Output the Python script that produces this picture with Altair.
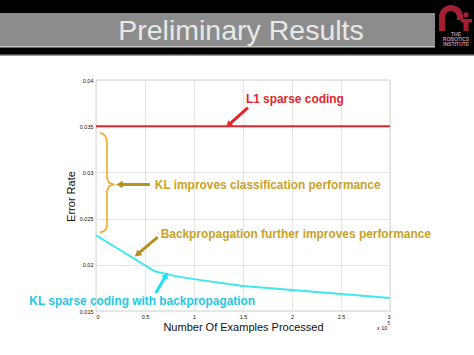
import altair as alt
import pandas as pd

# ---- data ----
x_examples = [0.0, 0.6, 0.8, 1.0, 1.5, 2.0, 2.5, 3.0]
err_kl_bp = [0.0232, 0.0193, 0.0188, 0.01845, 0.0177, 0.01726, 0.01683, 0.0164]
x_l1 = [0.0, 3.0]
err_l1 = [0.035, 0.035]

x_ticks = [0, 0.5, 1, 1.5, 2, 2.5, 3]
y_ticks = [0.015, 0.02, 0.025, 0.03, 0.035, 0.04]

# annotation texts (data coords)
ann_text = ["L1 sparse coding", "KL improves classification performance",
            "Backpropagation further improves performance",
            "KL sparse coding with backpropagation"]
ann_x = [1.53, 0.60, 0.66, -0.68]
ann_y = [0.0379, 0.02869, 0.0233, 0.01611]
ann_color = ["#e3242b", "#c9a227", "#c9a227", "#1ec8e6"]

# arrows (data coords) start -> tip
arr_x1 = [1.55, 0.55, 0.63, 0.61]
arr_y1 = [0.0370, 0.02869, 0.0230, 0.01694]
arr_x2 = [1.36, 0.25, 0.43, 0.71]
arr_y2 = [0.0352, 0.02869, 0.0212, 0.01877]
arr_ang = [228, 270, 231, 30]
arr_color = ["#e3242b", "#b8901e", "#b8901e", "#22e0ee"]

# brace (data coords)
brace_x = [0.041, 0.092, 0.112, 0.112, 0.14, 0.193, 0.14, 0.112, 0.112, 0.092, 0.041]
brace_y = [0.03429, 0.03397, 0.03332, 0.02944, 0.02885, 0.02869, 0.02853, 0.02793, 0.02427, 0.02373, 0.02351]

W, H = 294, 231
PL, PT = 96, 80

xs = alt.Scale(domain=[0, 3], nice=False)
ys = alt.Scale(domain=[0.015, 0.04], nice=False)

df_bp = pd.DataFrame({"x": x_examples, "y": err_kl_bp})
df_l1 = pd.DataFrame({"x": x_l1, "y": err_l1})
df_ann = pd.DataFrame({"t": ann_text, "x": ann_x, "y": ann_y, "c": ann_color})
df_arr = pd.DataFrame({"x1": arr_x1, "y1": arr_y1, "x2": arr_x2, "y2": arr_y2,
                       "a": arr_ang, "c": arr_color})
df_brace = pd.DataFrame({"x": brace_x, "y": brace_y, "o": list(range(len(brace_x)))})
one = pd.DataFrame({"k": [0]})

xaxis = alt.Axis(values=x_ticks, format="~g", title="Number Of Examples Processed",
                 labelFontSize=5.5, labelPadding=3, tickSize=0, grid=True,
                 gridColor="#e4e4e4", domain=False, titleFontSize=11,
                 titleFontWeight="normal", titleFont="Liberation Sans",
                 titleY=16, titleBaseline="middle", titleColor="#111")
yaxis = alt.Axis(values=y_ticks, format=".3~f", title="Error Rate",
                 labelFontSize=5.5, labelPadding=3, tickSize=0, grid=True,
                 gridColor="#e4e4e4", domain=False, titleFontSize=11,
                 titleFontWeight="normal", titleFont="Liberation Sans",
                 titleX=-25, titleY=116, titleAngle=-90, titleAlign="center",
                 titleBaseline="middle", titleColor="#111")

l1 = alt.Chart(df_l1).mark_line(color="#e3242b", strokeWidth=2).encode(
    x=alt.X("x:Q", scale=xs, axis=xaxis), y=alt.Y("y:Q", scale=ys, axis=yaxis))
bp = alt.Chart(df_bp).mark_line(color="#3ee8ea", strokeWidth=2).encode(
    x=alt.X("x:Q", scale=xs), y=alt.Y("y:Q", scale=ys))

brace = alt.Chart(df_brace).mark_line(color="#f5a623", strokeWidth=1.6,
                                      interpolate="monotone").encode(
    x=alt.X("x:Q", scale=xs), y=alt.Y("y:Q", scale=ys), order="o:Q")

arrows = alt.Chart(df_arr).mark_rule(strokeWidth=3).encode(
    x=alt.X("x1:Q", scale=xs), y=alt.Y("y1:Q", scale=ys), x2="x2:Q", y2="y2:Q",
    color=alt.Color("c:N", scale=None))
heads = alt.Chart(df_arr).mark_point(shape="triangle", filled=True, size=55, opacity=1).encode(
    x=alt.X("x2:Q", scale=xs), y=alt.Y("y2:Q", scale=ys),
    angle=alt.Angle("a:Q", scale=None), color=alt.Color("c:N", scale=None))

texts = alt.Chart(df_ann).mark_text(align="left", baseline="middle", fontSize=11.9,
                                    fontWeight="bold", font="Liberation Sans").encode(
    x=alt.X("x:Q", scale=xs), y=alt.Y("y:Q", scale=ys), text="t:N",
    color=alt.Color("c:N", scale=None))

x10 = alt.Chart(one).mark_text(align="left", baseline="middle", fontSize=5.5,
                               font="Liberation Sans", color="#111", text="x 10").encode(
    x=alt.value(281), y=alt.value(248))
x10e = alt.Chart(one).mark_text(align="left", baseline="middle", fontSize=4.5,
                                font="Liberation Sans", color="#111", text="5").encode(
    x=alt.value(291.5), y=alt.value(244))

# slide header
hdr_black = alt.Chart(one).mark_rect(color="#000").encode(
    x=alt.value(-PL), x2=alt.value(474 - PL), y=alt.value(-PT), y2=alt.value(56 - PT))
hdr_bar = alt.Chart(one).mark_rect(color="#8c8c8c").encode(
    x=alt.value(-PL), x2=alt.value(435 - PL), y=alt.value(13 - PT), y2=alt.value(46 - PT))
hdr_line1 = alt.Chart(one).mark_rect(color="#c8c8c8").encode(
    x=alt.value(-PL), x2=alt.value(435 - PL), y=alt.value(46 - PT), y2=alt.value(47.5 - PT))
hdr_line2 = alt.Chart(one).mark_rect(color="#9a9a9a").encode(
    x=alt.value(-PL), x2=alt.value(474 - PL), y=alt.value(54.5 - PT), y2=alt.value(56 - PT))
hdr_title = alt.Chart(one).mark_text(align="center", baseline="middle", fontSize=28.5,
                                     font="Liberation Sans", color="#e8e8e8",
                                     text="Preliminary Results").encode(
    x=alt.value(241 - PL), y=alt.value(31 - PT))
# logo
LOGO = "#a51f32"
logo_arc = alt.Chart(one).mark_arc(color=LOGO, theta=4.712, theta2=7.854,
                                   radius=12, radius2=6).encode(
    x=alt.value(451 - PL), y=alt.value(17 - PT))
logo_leg = alt.Chart(one).mark_rect(color=LOGO).encode(
    x=alt.value(439 - PL), x2=alt.value(445 - PL), y=alt.value(16.5 - PT), y2=alt.value(31 - PT))
logo_leg2 = alt.Chart(one).mark_rect(color=LOGO).encode(
    x=alt.value(457 - PL), x2=alt.value(463 - PL), y=alt.value(16.5 - PT), y2=alt.value(20 - PT))
logo_dot = alt.Chart(one).mark_point(shape="circle", filled=True, size=28, color=LOGO,
                                     opacity=1).encode(
    x=alt.value(466 - PL), y=alt.value(15 - PT))
logo_stem = alt.Chart(one).mark_rect(color=LOGO).encode(
    x=alt.value(461 - PL), x2=alt.value(472 - PL), y=alt.value(19 - PT), y2=alt.value(22.5 - PT))
logo_stem2 = alt.Chart(one).mark_rect(color=LOGO).encode(
    x=alt.value(463.5 - PL), x2=alt.value(468.5 - PL), y=alt.value(19 - PT), y2=alt.value(31 - PT))
logo_txt = alt.Chart(pd.DataFrame({"t": ["THE", "ROBOTICS", "INSTITUTE"],
                                   "yy": [34 - PT, 39 - PT, 44 - PT]})).mark_text(
    align="center", baseline="middle", fontSize=5, font="Liberation Sans",
    fontWeight="bold", color="#c98a90").encode(
    x=alt.value(456 - PL), y=alt.Y("yy:Q", scale=None), text="t:N")

chart = alt.layer(
    hdr_black, hdr_bar, hdr_line1, hdr_line2, hdr_title,
    logo_arc, logo_leg, logo_leg2, logo_dot, logo_stem, logo_stem2, logo_txt,
    l1, bp, brace, arrows, heads, texts, x10, x10e
).properties(
    width=W, height=H, background="white",
    padding={"left": PL, "top": PT, "right": 474 - PL - W, "bottom": 355 - PT - H},
    autosize=alt.AutoSizeParams(type="none"),
).configure_view(stroke="#777", strokeWidth=0.8).configure_axis(
    labelFont="Liberation Sans", labelColor="#111")

chart.save("out.html", embed_options={"renderer": "svg", "actions": False})
